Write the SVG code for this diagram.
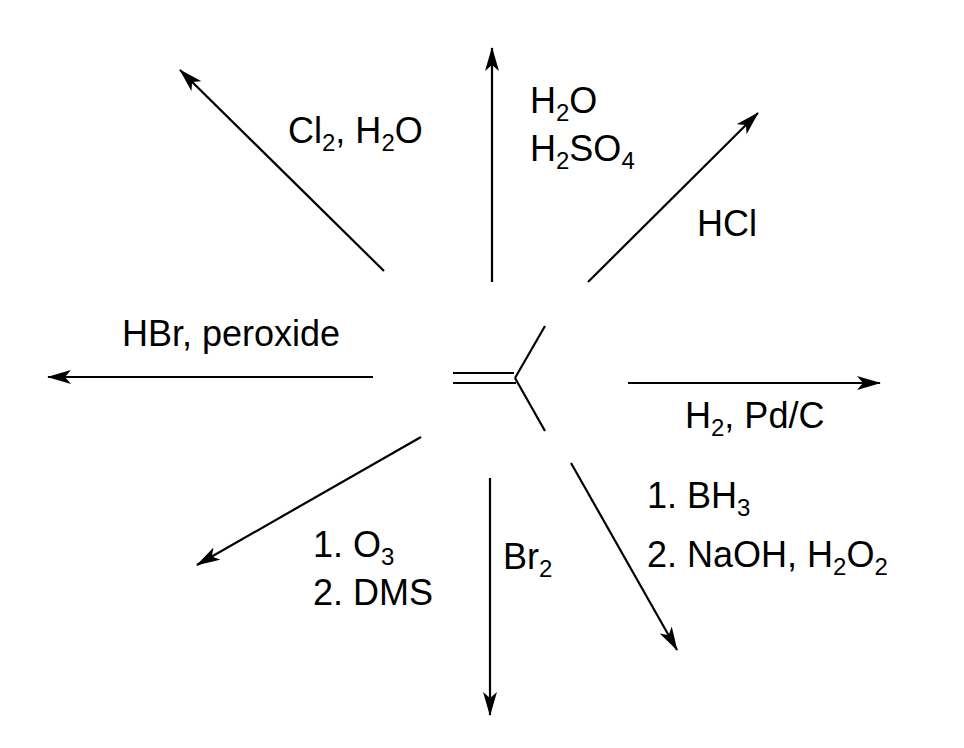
<svg xmlns="http://www.w3.org/2000/svg" width="964" height="748" viewBox="0 0 964 748">
<style>
text{font-family:"Liberation Sans",Arial,sans-serif;font-size:36px;fill:#000}
.s{font-size:24px}
line{stroke:#000;stroke-width:2.2}
</style>
<defs><marker id="a" viewBox="0 0 24 14" refX="23" refY="7" markerWidth="24" markerHeight="14" markerUnits="userSpaceOnUse" orient="auto"><path d="M0,0 L24,7 L0,14 L6,7 Z" fill="#000"/></marker></defs>
<rect width="964" height="748" fill="#fff"/>
<g id="molecule">
<line x1="453" y1="373" x2="514" y2="373"/>
<line x1="453" y1="383" x2="516" y2="383"/>
<line x1="515" y1="378" x2="545" y2="326"/>
<line x1="515" y1="378" x2="545" y2="431"/>
</g>
<g id="connectors">
<line x1="384" y1="271" x2="180" y2="70" marker-end="url(#a)"/>
<line x1="492" y1="282" x2="492" y2="48" marker-end="url(#a)"/>
<line x1="588" y1="282" x2="758" y2="113" marker-end="url(#a)"/>
<line x1="373" y1="377" x2="48" y2="377" marker-end="url(#a)"/>
<line x1="628" y1="383" x2="880" y2="383" marker-end="url(#a)"/>
<line x1="421" y1="437" x2="197" y2="565" marker-end="url(#a)"/>
<line x1="490" y1="478" x2="490" y2="715" marker-end="url(#a)"/>
<line x1="571" y1="463" x2="677" y2="650" marker-end="url(#a)"/>
</g>
<g id="labels">
<text x="288" y="143">Cl<tspan class="s" dy="8">2</tspan><tspan dy="-8">, H</tspan><tspan class="s" dy="8">2</tspan><tspan dy="-8">O</tspan></text>
<text x="530" y="113">H<tspan class="s" dy="8">2</tspan><tspan dy="-8">O</tspan></text>
<text x="530" y="161">H<tspan class="s" dy="8">2</tspan><tspan dy="-8">SO</tspan><tspan class="s" dy="8">4</tspan></text>
<text x="697" y="236">HCl</text>
<text x="122" y="346">HBr, peroxide</text>
<text x="685" y="428">H<tspan class="s" dy="8">2</tspan><tspan dy="-8">, Pd/C</tspan></text>
<text x="647" y="508">1. BH<tspan class="s" dy="8">3</tspan></text>
<text x="647" y="567">2. NaOH, H<tspan class="s" dy="8">2</tspan><tspan dy="-8">O</tspan><tspan class="s" dy="8">2</tspan></text>
<text x="313" y="557">1. O<tspan class="s" dy="8">3</tspan></text>
<text x="313" y="605">2. DMS</text>
<text x="503" y="569">Br<tspan class="s" dy="8">2</tspan></text>
</g>
</svg>
